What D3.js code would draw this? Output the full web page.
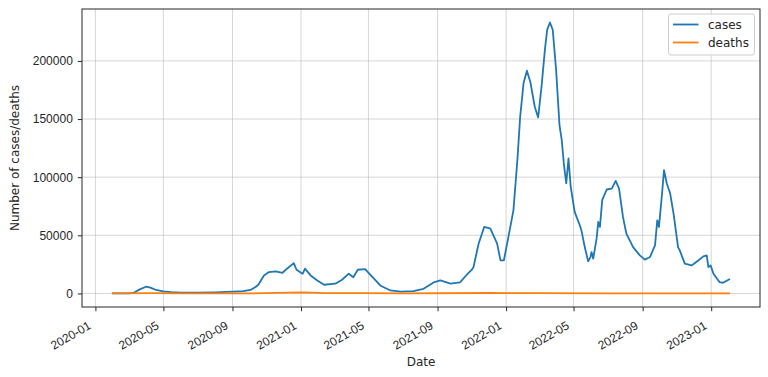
<!DOCTYPE html>
<html>
<head>
<meta charset="utf-8">
<script src="https://cdn.jsdelivr.net/npm/d3@7"></script>
<style>
  body { margin: 0; background: #fff; }
  svg { display: block; font-family: "DejaVu Sans", sans-serif; }
</style>
</head>
<body>
<svg id="chart" width="768" height="377"></svg>
<script>
// cases (rolling daily numbers)
const caseDates = [
  "2020-02-01","2020-03-01","2020-03-10","2020-03-20","2020-03-31","2020-04-08","2020-04-18","2020-05-01",
  "2020-05-15","2020-06-01","2020-07-01","2020-08-01","2020-09-01","2020-09-20","2020-10-03","2020-10-12",
  "2020-10-17","2020-10-27","2020-11-05","2020-11-17","2020-11-29","2020-12-07","2020-12-19","2020-12-24",
  "2021-01-01","2021-01-04","2021-01-08","2021-01-18","2021-01-30","2021-02-11","2021-03-03","2021-03-15",
  "2021-03-27","2021-04-04","2021-04-12","2021-04-25","2021-05-07","2021-05-22","2021-06-09","2021-06-27",
  "2021-07-20","2021-08-07","2021-08-25","2021-09-06","2021-09-24","2021-10-11","2021-10-23","2021-11-01",
  "2021-11-04","2021-11-13","2021-11-23","2021-12-04","2021-12-16","2021-12-22","2021-12-28","2022-01-05",
  "2022-01-14","2022-01-21","2022-01-26","2022-02-01","2022-02-07","2022-02-13","2022-02-21","2022-02-27",
  "2022-03-05","2022-03-11","2022-03-15","2022-03-20","2022-03-25","2022-03-31","2022-04-06","2022-04-10",
  "2022-04-14","2022-04-18","2022-04-22","2022-04-26","2022-05-03","2022-05-11","2022-05-15","2022-05-21",
  "2022-05-27","2022-05-31","2022-06-02","2022-06-05","2022-06-11","2022-06-14","2022-06-17","2022-06-21",
  "2022-06-29","2022-07-08","2022-07-15","2022-07-21","2022-07-28","2022-08-03","2022-08-15","2022-08-27",
  "2022-09-05","2022-09-14","2022-09-23","2022-09-27","2022-09-30","2022-10-05","2022-10-09","2022-10-14",
  "2022-10-20","2022-10-26","2022-10-30","2022-11-03","2022-11-06","2022-11-15","2022-11-27","2022-12-09",
  "2022-12-18","2022-12-24","2022-12-27","2022-12-31","2023-01-05","2023-01-16","2023-01-22","2023-02-02"
];
const cases = [
  0,100,800,3500,5800,5000,3000,1800,
  1100,700,600,900,1500,2000,3000,5500,
  7500,15500,18400,19000,17800,21300,26100,20400,
  17800,17000,21300,15500,11200,7500,8400,11800,
  17000,14000,20400,21000,14700,6900,2600,1500,
  2000,4000,9500,11200,8400,9500,16100,20400,
  22700,42800,57200,55800,42800,28400,28400,48500,
  71500,114600,152000,180800,191600,182100,160600,151400,
  177800,209500,226700,233000,226700,192000,144800,131900,
  110300,94600,116100,91600,70100,60100,54300,39900,
  27600,31300,35600,29900,47100,61500,57200,80200,
  89400,90200,96800,90200,65800,51500,39900,32800,
  29100,31300,41400,62900,57200,83000,106000,94600,
  85900,68700,54300,39900,37100,25600,24100,28400,
  31900,32800,22700,24100,17000,9700,9200,12100
];

const deathDates = [
  "2020-02-01","2020-04-10","2020-06-01","2020-10-01","2020-11-15","2021-01-05","2021-02-15",
  "2021-04-20","2021-07-01","2021-12-01","2022-03-01","2022-07-01","2022-10-20","2023-02-02"
];
const deaths = [0,250,20,30,500,900,350,250,30,400,250,100,150,100];

const seriesNames = ["cases", "deaths"];
const seriesColors = ["#1f77b4", "#ff7f0e"];
const yTicks = [0, 50000, 100000, 150000, 200000];

const parse = d3.timeParse("%Y-%m-%d");
const caseData = caseDates.map((d, i) => ({date: parse(d), value: cases[i]}));
const deathData = deathDates.map((d, i) => ({date: parse(d), value: deaths[i]}));

const svg = d3.select("#chart");
const margin = {top: 9, right: 8, bottom: 70, left: 82};
const width = 768 - margin.left - margin.right;
const height = 377 - margin.top - margin.bottom;
const fs = "12px";
const ink = "#262626";

const g = svg.append("g").attr("transform", `translate(${margin.left},${margin.top})`);

// matplotlib style 5% padding on both axes
const xExt = d3.extent(caseData, d => d.date);
const xPad = (xExt[1] - xExt[0]) * 0.05;
const x = d3.scaleTime()
  .domain([new Date(+xExt[0] - xPad), new Date(+xExt[1] + xPad)])
  .range([0, width]);

const yMax = d3.max(cases);
const y = d3.scaleLinear()
  .domain([-yMax * 0.05, yMax * 1.05])
  .range([height, 0]);

const xTicks = d3.timeMonth.every(4).range(parse("2020-01-01"), parse("2023-01-02"));

// grid
g.append("g").selectAll("line").data(xTicks).join("line")
  .attr("x1", d => x(d)).attr("x2", d => x(d))
  .attr("y1", 0).attr("y2", height)
  .attr("stroke", "#b0b0b0").attr("stroke-opacity", 0.5).attr("stroke-width", 1);
g.append("g").selectAll("line").data(yTicks).join("line")
  .attr("x1", 0).attr("x2", width)
  .attr("y1", d => y(d)).attr("y2", d => y(d))
  .attr("stroke", "#b0b0b0").attr("stroke-opacity", 0.5).attr("stroke-width", 1);

// lines
const line = d3.line().x(d => x(d.date)).y(d => y(d.value));
[caseData, deathData].forEach((data, i) => {
  g.append("path").datum(data)
    .attr("fill", "none")
    .attr("stroke", seriesColors[i])
    .attr("stroke-width", 1.8)
    .attr("stroke-linejoin", "round")
    .attr("stroke-linecap", "square")
    .attr("d", line);
});

// axes
const xAxis = g.append("g").attr("transform", `translate(0,${height})`)
  .call(d3.axisBottom(x).tickValues(xTicks).tickFormat(d3.timeFormat("%Y-%m")).tickSize(4.2).tickPadding(0));
xAxis.select(".domain").remove();
xAxis.selectAll("text")
  .attr("font-size", fs).attr("fill", ink)
  .attr("text-anchor", "end")
  .attr("y", 0).attr("dy", 0)
  .attr("transform", "translate(-4,21) rotate(-30)");
xAxis.selectAll(".tick line").attr("stroke", ink).attr("stroke-width", 1);

const yAxis = g.append("g")
  .call(d3.axisLeft(y).tickValues(yTicks).tickFormat(d3.format("d")).tickSize(4.2).tickPadding(5));
yAxis.select(".domain").remove();
yAxis.selectAll("text").attr("font-size", fs).attr("fill", ink);
yAxis.selectAll(".tick line").attr("stroke", ink).attr("stroke-width", 1);

// frame
g.append("rect").attr("width", width).attr("height", height)
  .attr("fill", "none").attr("stroke", ink).attr("stroke-width", 1);

// axis labels
svg.append("text")
  .attr("x", margin.left + width / 2).attr("y", 366)
  .attr("text-anchor", "middle").attr("font-size", fs).attr("fill", ink)
  .text("Date");
svg.append("text")
  .attr("transform", `translate(19,${margin.top + height / 2}) rotate(-90)`)
  .attr("text-anchor", "middle").attr("font-size", fs).attr("fill", ink)
  .text("Number of cases/deaths");

// legend
const lg = svg.append("g").attr("transform", "translate(668.5,14)");
lg.append("rect").attr("width", 86).attr("height", 41).attr("rx", 2.5)
  .attr("fill", "#fff").attr("fill-opacity", 0.8)
  .attr("stroke", "#cccccc").attr("stroke-width", 1);
seriesNames.forEach((name, i) => {
  const yy = 10.5 + i * 18;
  lg.append("line").attr("x1", 4.5).attr("x2", 30).attr("y1", yy).attr("y2", yy)
    .attr("stroke", seriesColors[i]).attr("stroke-width", 1.8);
  lg.append("text").attr("x", 39.5).attr("y", yy).attr("dy", "0.35em")
    .attr("font-size", fs).attr("fill", ink).text(name);
});
</script>
</body>
</html>
